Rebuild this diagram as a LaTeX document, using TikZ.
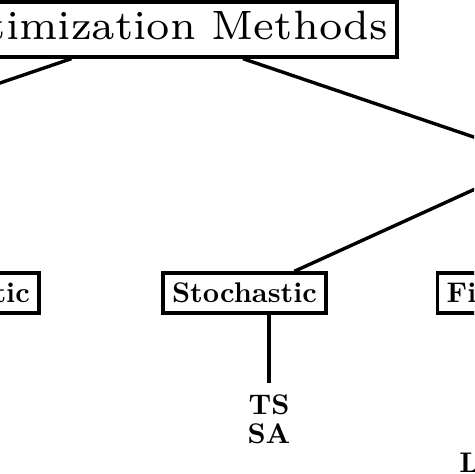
\documentclass[tikz,border=0pt]{standalone}
\usetikzlibrary{calc}
\tikzset{
  treebox/.style={draw=black, line width=1.7pt, rectangle, inner xsep=4.5pt, inner ysep=0pt, minimum height=20pt},
  treeline/.style={draw=black, line width=1.7pt},
  leaftext/.style={inner sep=0pt}
}
\newcommand{\topfont}[1]{\scalebox{2.93}{\fontsize{7}{8}\selectfont #1}}
\newcommand{\bfbig}[1]{\scalebox{1.42}{\fontsize{10}{12}\selectfont\bfseries #1}}
\newcommand{\boxtext}[1]{\raisebox{-1pt}{\bfbig{#1}}}
\begin{document}
\begin{tikzpicture}[x=0.5pt, y=-0.5pt]
\useasboundingbox (0,0) rectangle (474,474);
\fill[white] (0,0) rectangle (474,474);
\clip (0,0) rectangle (474,474);

% top node
\node[treebox, minimum width=235pt, minimum height=27.5pt] (om) at (157,29.5) {\topfont{Optimization Methods}};

% hidden (off-picture) children of the top node
\coordinate (lt) at (-226,160);
\coordinate (heur) at (540,159.5);

% second row boxes
\node[treebox, anchor=east] (det) at (40.5,293) {\boxtext{Deterministic}};
\node[treebox, minimum width=81pt] (stoch) at (244.5,293) {\boxtext{Stochastic}};
\node[treebox, anchor=west] (fi) at (436,293) {\boxtext{Fi}\hspace*{40pt}};

% leaves
\node[anchor=north, inner xsep=0pt, inner ysep=5.3pt] (tssa) at (269,383)
  {\bfbig{\renewcommand\arraystretch{0.86}\begin{tabular}{@{}c@{}}TS\\SA\end{tabular}}};
\node[leaftext, anchor=base west] (lleaf) at (459,472) {\bfbig{L}};

% connectors
\draw[treeline] (om) -- (lt);
\draw[treeline] (om) -- (heur);
\draw[treeline] (heur) -- ($(stoch.north)!0.6!(stoch.north east)$);
\draw[treeline] (stoch.south -| tssa.north) -- (tssa.north);
\end{tikzpicture}
\end{document}
